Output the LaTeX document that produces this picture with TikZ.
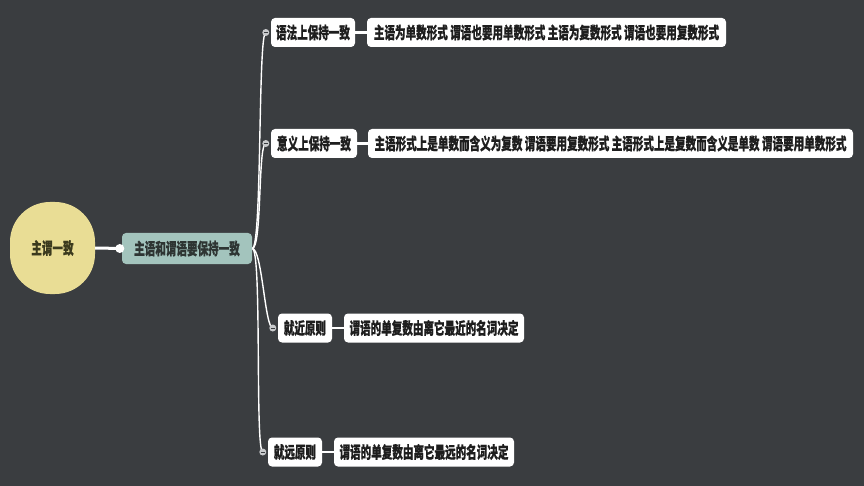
\documentclass[tikz,border=0pt]{standalone}
\usepackage{fontspec}
\newfontfamily\cjk{Noto Sans CJK SC}[FakeStretch=0.64, BoldFeatures={FakeBold=0.5}]
\definecolor{bgdark}{HTML}{3A3D40}
\definecolor{rootfill}{HTML}{E9DD95}
\definecolor{rootink}{HTML}{3B3A1E}
\definecolor{topicfill}{HTML}{A3C4BD}
\definecolor{topicink}{HTML}{2E3533}
\definecolor{boxink}{HTML}{1E1E1E}
\definecolor{knob}{HTML}{C8CACC}
\tikzset{
  every node/.style={font=\cjk\bfseries\fontsize{16.5}{19}\selectfont, inner sep=0pt},
  rootbox/.style={fill=rootfill, text=rootink, rounded corners=40pt, minimum width=85pt, minimum height=92pt},
  topicbox/.style={fill=topicfill, text=topicink, rounded corners=4pt, minimum width=130pt, minimum height=31pt},
  subbox/.style={fill=white, text=boxink, rounded corners=4pt, minimum height=29pt},
  leafbox/.style={fill=white, text=boxink, rounded corners=4pt, minimum height=29pt},
  branch/.style={white, line width=1.4pt},
  joint/.style={white, line width=2.2pt}
}
\begin{document}
\begin{tikzpicture}[x=1pt,y=-1pt]
     \fill[bgdark] (0,0) rectangle (864,486);
     \useasboundingbox (0,0) rectangle (864,486);
     \node[rootbox] (root) at (52.5,248) {主谓一致};
     \node[topicbox] (topic) at (187,248.5) {主语和谓语要保持一致};
     \node[subbox, minimum width=84pt] (sub1) at (313,32.5) {语法上保持一致};
     \node[subbox, minimum width=86pt] (sub2) at (314,143.5) {意义上保持一致};
     \node[subbox, minimum width=54pt] (sub3) at (305,328) {就近原则};
     \node[subbox, minimum width=54pt] (sub4) at (295,452) {就远原则};
     \node[leafbox, minimum width=359pt] (leaf1) at (546.5,32.5) {主语为单数形式 谓语也要用单数形式 主语为复数形式 谓语也要用复数形式};
     \node[leafbox, minimum width=485pt] (leaf2) at (610.5,143.5) {主语形式上是单数而含义为复数 谓语要用复数形式 主语形式上是复数而含义是单数 谓语要用单数形式};
     \node[leafbox, minimum width=180pt] (leaf3) at (434,328) {谓语的单复数由离它最近的名词决定};
     \node[leafbox, minimum width=180pt] (leaf4) at (424,452) {谓语的单复数由离它最远的名词决定};
     \draw[white, line width=3pt] (root.east) -- (topic.west);
     \fill[white] ([xshift=-2pt]topic.west) circle (4.5pt);
     \foreach \k in {1,...,4} {
       \coordinate (knob\k) at ([xshift=-5pt]sub\k.west);
       \draw[branch] (topic.east) .. controls +(10,0) and +(-8,0) .. (knob\k);
       \fill[knob] (knob\k) circle (3.5pt);
       \draw[bgdark, line width=0.8pt] ([xshift=-1.8pt]knob\k) -- ([xshift=1.8pt]knob\k);
       \draw[joint] (sub\k.east) -- (leaf\k.west);
     }
\end{tikzpicture}
\end{document}
